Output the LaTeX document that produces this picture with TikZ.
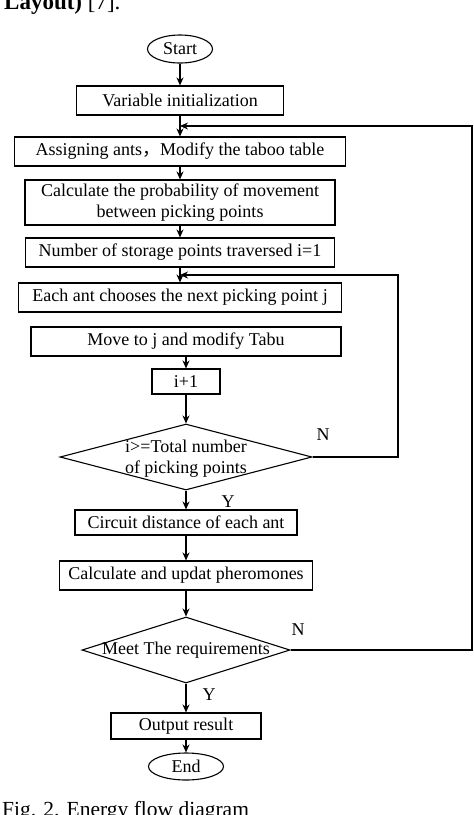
\documentclass[tikz,border=0pt]{standalone}
\usepackage{fontspec}
\setmainfont{Liberation Serif}
\newfontfamily\cjk{Noto Sans CJK SC}
\usetikzlibrary{shapes.geometric,arrows.meta}
\begin{document}
\begin{tikzpicture}[x=1pt,y=-1pt,
  every node/.style={font=\fontsize{18}{21}\selectfont},
  box/.style={draw, line width=1.1pt, inner sep=0pt, align=center},
  oval/.style={draw, ellipse, line width=1.1pt, inner sep=0pt},
  dia/.style={draw, diamond, line width=1.1pt, inner sep=0pt},
  lbl/.style={inner sep=0pt},
  arr/.style={line width=1.1pt, -{Stealth[length=8pt,width=7pt]}},
  ln/.style={line width=1.1pt}]
\clip (0,0) rectangle (474,815);
\useasboundingbox (0,0) rectangle (474,815);

\node[anchor=base west, inner sep=0pt, font=\fontsize{23}{27}\selectfont] (hdr) at (4,9) {\textbf{Layout)} [7].};

\node[oval, minimum width=65pt, minimum height=28pt] (start) at (180,49) {Start};
\node[box, minimum width=207pt, minimum height=29pt] (init) at (180,100.5) {Variable initialization};
\node[box, minimum width=331pt, minimum height=29pt] (assign) at (180,151.5) {Assigning ants{\cjk ，}Modify the taboo table};
\node[box, minimum width=310pt, minimum height=45pt] (prob) at (180,202.5) {Calculate the probability of movement\\between picking points};
\node[box, minimum width=309pt, minimum height=29pt] (num) at (180,252.5) {Number of storage points traversed i=1};
\node[box, minimum width=323pt, minimum height=29pt] (each) at (180,297.5) {Each ant chooses the next picking point j};
\node[box, minimum width=310pt, minimum height=29pt] (move) at (186,341.5) {Move to j and modify Tabu};
\node[box, minimum width=68pt, minimum height=25pt] (inc) at (186,381.5) {i+1};
\node[dia, minimum width=252pt, minimum height=66pt] (d1) at (186,457) {};
\node[align=center, inner sep=0pt] (d1t) at (186,459) {i>=Total number\\of picking points};
\node[box, minimum width=222pt, minimum height=25pt] (circ) at (186,522.5) {Circuit distance of each ant};
\node[box, minimum width=253pt, minimum height=29pt] (upd) at (186,575.5) {Calculate and updat pheromones};
\node[dia, minimum width=208pt, minimum height=66pt] (d2) at (186,650) {};
\node[inner sep=0pt] (d2t) at (186,650) {Meet The requirements};
\node[box, minimum width=150pt, minimum height=26pt] (out) at (186,726) {Output result};
\node[oval, minimum width=75pt, minimum height=27pt] (end) at (186,766.5) {End};

\node[lbl] (n1) at (323,435) {N};
\node[lbl] (y1) at (228,502) {Y};
\node[lbl] (n2) at (298,630) {N};
\node[lbl] (y2) at (209,695) {Y};

\node[anchor=base west, inner sep=0pt, font=\fontsize{21.5}{26}\selectfont] (cap) at (2,816) {Fig. 2. Energy flow diagram};

\coordinate (j1) at (180,126);
\coordinate (j2) at (180,275);
\coordinate (rx1) at (472,0);
\coordinate (rx2) at (398,0);

\draw[arr] (start.south) -- (init.north);
\draw[arr] (init.south) -- (assign.north);
\draw[arr] (assign.south) -- (prob.north);
\draw[arr] (prob.south) -- (num.north);
\draw[arr] (num.south) -- (each.north);
\draw[arr] (move.south) -- (inc.north);
\draw[arr] (inc.south) -- (d1.north);
\draw[arr] (d1.south) -- (circ.north);
\draw[arr] (circ.south) -- (upd.north);
\draw[arr] (upd.south) -- (d2.north);
\draw[arr] (d2.south) -- (out.north);
\draw[arr] (out.south) -- (end.north);

\draw[arr] (d1.east) -- (d1.east -| rx2) -- (j2 -| rx2) -- (j2);
\draw[arr] (d2.east) -- (d2.east -| rx1) -- (j1 -| rx1) -- (j1);
\end{tikzpicture}
\end{document}
